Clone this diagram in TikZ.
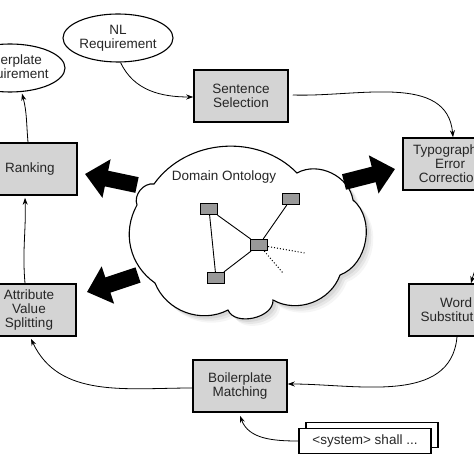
\documentclass[tikz,border=0pt]{standalone}
\usepackage{fontspec}
\setmainfont{Liberation Sans}
\usetikzlibrary{shapes.geometric,shadows,arrows.meta}

\begin{document}
\begin{tikzpicture}[x=1pt, y=1pt,
    every node/.style = {align=center, text=black!85,
      font=\fontsize{13.5}{14}\selectfont},
    proc/.style = {shape=rectangle, draw, line width=1.5pt,
      fill=black!17, minimum width=94pt, minimum height=52pt},
    req/.style = {shape=ellipse, draw, line width=1.1pt,
      fill=white, minimum width=110pt, minimum height=48pt, inner sep=0pt},
    doc/.style = {shape=rectangle, draw, line width=1.5pt,
      fill=white, minimum width=132pt, minimum height=25pt},
    concept/.style = {shape=rectangle, draw, line width=1.2pt,
      fill=black!40, minimum width=17pt, minimum height=11pt, inner sep=0pt},
    flow/.style = {line width=0.8pt, -{Stealth[length=7pt,width=5pt]}},
    bigarrow/.style = {line width=16pt, -{Triangle[length=22pt,width=38pt]}},
    cloudline/.style = {draw, line width=1.1pt, fill=white,
      drop shadow={shadow xshift=3pt, shadow yshift=-3pt, opacity=0.15},
      drop shadow={shadow xshift=5pt, shadow yshift=-5pt, opacity=0.12},
      drop shadow={shadow xshift=7pt, shadow yshift=-7pt, opacity=0.08}}]
    \useasboundingbox (0,0) rectangle (474,474);
    \clip (0,0) rectangle (474,474);

    % ontology cloud
    \path[cloudline] (154,290) to[bend left=50] (297,301)
      to[bend left=55] (353,274) to[bend left=60] (340,199)
      to[bend left=50] (273,174) to[bend left=80] (228,164)
      to[bend left=48] (155,191) to[bend left=42] (137,269)
      to[bend left=60] cycle;
    \node (dotitle) at (224,297) {Domain Ontology};
    \node[concept] (ca) at (209,265) {};
    \node[concept] (cb) at (291,275) {};
    \node[concept] (cc) at (259,229) {};
    \node[concept] (cd) at (216,196) {};
    \coordinate (cx) at (305,221);
    \coordinate (cy) at (283,201);
    \draw[line width=0.9pt] (ca) -- (cd) (ca) -- (cc) (cb) -- (cc) (cc) -- (cd);
    \draw[line width=1pt, dotted] (cc) -- (cx) (cc) -- (cy);

    % requirements and steps
    \node[req] (nl) at (118,436) {NL\\Requirement};
    \node[req] (bpr) at (10,406) {Boilerplate\\Requirement};
    \node[proc] (ss) at (241,378) {Sentence\\Selection};
    \node[proc] (typo) at (450,310) {Typographic\\Error\\Correction};
    \node[proc] (ws) at (456,164) {Word\\Substitution};
    \node[proc] (bm) at (240,88) {Boilerplate\\Matching};
    \node[proc] (avs) at (29,164) {Attribute\\Value\\Splitting};
    \node[proc] (rank) at (30,305) {Ranking};
    \node[doc] (sysback) at (372,39) {};
    \node[doc] (sys) at (365,33) {<system> shall ...};

    % flow
    \draw[flow] (nl.-84) to[out=-65,in=180] ([yshift=-1pt]ss.west);
    \draw[flow] ([xshift=4pt,yshift=1pt]ss.east) to[out=-2,in=95] ([xshift=3pt]typo.north);
    \draw[flow] (typo.east) to[out=-10,in=75] ([xshift=15pt]ws.north);
    \draw[flow] ([xshift=1pt]ws.south) to[out=-95,in=0] ([yshift=2pt]bm.east);
    \draw[flow] (sys.west) to[out=180,in=-70] ([yshift=-3pt]bm.south);
    \draw[flow] ([yshift=-2pt]bm.west) to[out=180,in=-65] ([xshift=2pt,yshift=-2pt]avs.south);
    \draw[flow] ([xshift=-4pt]avs.north) to[out=95,in=-88] ([xshift=-5pt,yshift=-2pt]rank.south);
    \draw[flow] ([xshift=-2pt]rank.north) to[out=95,in=-75] ([xshift=12pt,yshift=-1pt]bpr.south);

    % ontology feeds
    \coordinate (fr) at (137,289);
    \coordinate (tr) at (85,300);
    \coordinate (fa) at (138,199);
    \coordinate (ta) at (87,182);
    \coordinate (ft) at (344,292);
    \coordinate (tt) at (395,305);
    \draw[bigarrow] (fr) -- (tr);
    \draw[bigarrow] (fa) -- (ta);
    \draw[bigarrow] (ft) -- (tt);
\end{tikzpicture}
\end{document}
